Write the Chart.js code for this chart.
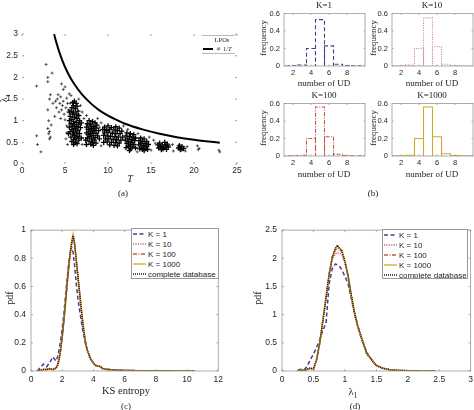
<!DOCTYPE html>
<html>
<head>
<meta charset="utf-8">
<script src="https://cdn.jsdelivr.net/npm/chart.js@4.4.1/dist/chart.umd.min.js"></script>
<style>
html, body { margin: 0; padding: 0; background: #fff; width: 474px; height: 410px; overflow: hidden; position: relative; }
canvas { position: absolute; }
.t { position: absolute; white-space: nowrap; color: #222; font-family: "Liberation Serif", serif; line-height: 1; transform: translate(-50%, -50%); z-index: 3; }
.rot { transform: translate(-50%, -50%) rotate(-90deg); }
.leg { position: absolute; box-sizing: border-box; background: #fff; border: 1px solid #9a9a9a; padding-left: 1px; z-index: 2;
       font-family: "Liberation Sans", Arial, sans-serif; font-size: 8px; color: #222; overflow: hidden; }
.leg div { height: 10px; display: flex; align-items: center; white-space: nowrap; }
.leg svg { margin-right: 2px; flex: none; }
.hl { position: absolute; height: 0; border-top: 1px solid #b8b8b8; z-index: 2; }
</style>
</head>
<body>
<!-- (a) -->
<div class="t rot" style="left:5px;top:98px;font-size:10px">λ<sub style="font-size:70%">1</sub></div>
<div class="t" style="left:130px;top:179px;font-size:10px;font-style:italic">T</div>
<div class="t" style="left:123px;top:193px;font-size:9px">(a)</div>
<div class="hl" style="left:202px;top:35px;width:33px"></div>
<div class="hl" style="left:202px;top:53px;width:33px"></div>
<div class="t" style="left:222px;top:40px;font-size:6.5px">LPOs</div>
<div style="position:absolute;left:203px;top:48px;width:10px;height:2px;background:#000"></div>
<div class="t" style="left:224px;top:49px;font-size:6.5px">∝ 1/<i>T</i></div>
<!-- (b) -->
<div class="t" style="left:324px;top:5px;font-size:9px">K=1</div>
<div class="t" style="left:432px;top:5px;font-size:9px">K=10</div>
<div class="t" style="left:324px;top:95px;font-size:9px">K=100</div>
<div class="t" style="left:432px;top:95px;font-size:9px">K=1000</div>
<div class="t rot" style="left:263px;top:38px;font-size:9px">frequency</div>
<div class="t rot" style="left:373px;top:38px;font-size:9px">frequency</div>
<div class="t rot" style="left:263px;top:128px;font-size:9px">frequency</div>
<div class="t rot" style="left:373px;top:128px;font-size:9px">frequency</div>
<div class="t" style="left:324px;top:83px;font-size:9px">number of UD</div>
<div class="t" style="left:432px;top:83px;font-size:9px">number of UD</div>
<div class="t" style="left:324px;top:174px;font-size:9px">number of UD</div>
<div class="t" style="left:432px;top:174px;font-size:9px">number of UD</div>
<div class="t" style="left:373px;top:193px;font-size:9px">(b)</div>
<!-- (c) -->
<div class="t rot" style="left:10px;top:298px;font-size:10px">pdf</div>
<div class="t" style="left:126px;top:391px;font-size:10.5px">KS entropy</div>
<div class="t" style="left:126px;top:406px;font-size:9px">(c)</div>
<!-- (d) -->
<div class="t rot" style="left:258px;top:298px;font-size:10px">pdf</div>
<div class="t" style="left:353px;top:393px;font-size:10.5px">λ<sub style="font-size:70%">1</sub></div>
<div class="t" style="left:355px;top:406px;font-size:9px">(d)</div>

<script>
// (a) LPOs: [T, lambda]; dense clusters and scattered points
var lpoCore = [
    [5.9, 1.42], [6.1, 1.45], [6.3, 1.4], [6.0, 1.35], [6.4, 1.33], [5.8, 1.3], [6.2, 1.28], [5.7, 1.22], [6.5, 1.22],
    [6.0, 1.2], [5.9, 1.15], [6.3, 1.15], [6.6, 1.12], [5.6, 1.1], [6.1, 1.08], [6.4, 1.05], [5.8, 1.03], [6.7, 1.0],
    [5.5, 1.0], [6.0, 0.98], [6.3, 0.96], [5.7, 0.93], [6.6, 0.92], [6.1, 0.9], [5.9, 0.87], [6.4, 0.86], [5.5, 0.85],
    [6.8, 0.84], [6.2, 0.82], [5.8, 0.8], [6.5, 0.78], [6.0, 0.76], [5.6, 0.74], [6.3, 0.72], [6.7, 0.7], [5.9, 0.69],
    [6.1, 0.66], [6.5, 0.64], [5.7, 0.62], [6.3, 0.6], [6.0, 0.57], [6.6, 0.55], [5.8, 0.52], [6.2, 0.5], [6.4, 0.47],
    [6.0, 0.45], [6.9, 0.6], [5.4, 0.7], [6.9, 0.95], [5.5, 1.2],
    [7.8, 1.0], [8.2, 0.98], [8.5, 0.95], [7.6, 0.93], [8.0, 0.92], [8.7, 0.9], [7.9, 0.88], [8.3, 0.86], [7.5, 0.85],
    [8.6, 0.83], [8.1, 0.82], [7.7, 0.8], [8.4, 0.78], [8.9, 0.77], [7.9, 0.76], [8.2, 0.74], [7.5, 0.72], [8.6, 0.71],
    [8.0, 0.7], [7.7, 0.68], [8.3, 0.66], [8.8, 0.65], [7.9, 0.63], [8.5, 0.61], [7.6, 0.6], [8.1, 0.58], [8.4, 0.55],
    [7.8, 0.53], [8.2, 0.5], [8.6, 0.48], [8.0, 0.46], [7.4, 0.55], [9.0, 0.58], [7.5, 0.45], [8.3, 0.43],
    [9.6, 0.85], [10.0, 0.88], [10.4, 0.84], [10.9, 0.86], [11.3, 0.83], [9.4, 0.8], [9.8, 0.78], [10.2, 0.8],
    [10.7, 0.79], [11.1, 0.77], [11.6, 0.76], [9.6, 0.72], [10.0, 0.73], [10.5, 0.71], [10.9, 0.7], [11.4, 0.7],
    [9.5, 0.66], [9.9, 0.65], [10.3, 0.64], [10.8, 0.63], [11.2, 0.62], [11.7, 0.62], [9.7, 0.58], [10.1, 0.58],
    [10.6, 0.57], [11.0, 0.56], [11.5, 0.55], [9.9, 0.51], [10.4, 0.5], [10.9, 0.5], [11.3, 0.48], [10.2, 0.44],
    [10.7, 0.43], [11.1, 0.42], [9.5, 0.5],
    [12.2, 0.72], [12.6, 0.7], [13.0, 0.68], [12.1, 0.65], [12.5, 0.63], [12.9, 0.62], [13.2, 0.6], [12.3, 0.58],
    [12.7, 0.56], [12.0, 0.55], [13.1, 0.54], [12.4, 0.51], [12.8, 0.5], [12.2, 0.47], [12.6, 0.45], [13.0, 0.45],
    [12.4, 0.41], [12.8, 0.39], [12.1, 0.38], [12.6, 0.35], [13.2, 0.37], [12.5, 0.31],
    [13.8, 0.6], [14.2, 0.58], [13.6, 0.54], [14.0, 0.52], [14.5, 0.52], [13.8, 0.48], [14.3, 0.47], [14.7, 0.45],
    [13.6, 0.44], [14.1, 0.43], [14.5, 0.4], [13.9, 0.39], [14.3, 0.36], [14.0, 0.34], [14.6, 0.34], [13.7, 0.35],
    [14.2, 0.31],
    [16.0, 0.48], [16.6, 0.5], [16.9, 0.46], [15.8, 0.44], [16.3, 0.44], [16.7, 0.42], [16.1, 0.4], [16.5, 0.38],
    [17.0, 0.39], [15.9, 0.37], [16.4, 0.35], [16.8, 0.34], [16.2, 0.33],
    [18.3, 0.42], [18.6, 0.4], [18.2, 0.37], [18.5, 0.35], [18.8, 0.36], [18.4, 0.33]
];
var lpoSparse = [
    [1.7, 1.8], [1.7, 0.65], [1.8, 0.45], [2.2, 0.28], [2.8, 2.3], [3.0, 2.0], [3.0, 1.9], [3.2, 1.5], [3.0, 1.25],
    [3.1, 1.0], [3.0, 0.82], [3.2, 0.75], [3.1, 0.7], [3.3, 0.62], [3.2, 0.58], [3.4, 0.9], [3.5, 2.1], [3.6, 1.4],
    [3.3, 1.6], [3.9, 1.45], [4.2, 1.6], [4.5, 1.55], [4.8, 1.72], [4.6, 1.85], [5.0, 1.78], [4.0, 1.3], [4.3, 1.2],
    [4.7, 1.35], [5.2, 1.52], [5.3, 1.4], [4.9, 1.15], [5.0, 1.02], [4.5, 1.05], [5.5, 1.62], [5.7, 1.58], [5.2, 0.72],
    [5.1, 0.58], [5.3, 0.45], [4.8, 1.45], [5.2, 0.88], [4.6, 1.25], [5.4, 1.25], [4.4, 1.4], [3.8, 1.1], [5.1, 1.3],
    [4.1, 1.5], [5.6, 1.4], [6.6, 1.5], [6.8, 1.35], [7.0, 1.2],
    [17.2, 0.42], [18.3, 0.45], [18.7, 0.32], [19.2, 0.4],
    [20.4, 0.42], [20.6, 0.36], [20.5, 0.33], [22.9, 0.32], [23.0, 0.28], [17.6, 0.3], [19.0, 0.3],
    [7.2, 1.05], [7.5, 1.12], [8.8, 1.05], [9.2, 0.95], [9.0, 0.85], [11.8, 0.88], [12.3, 0.8], [13.5, 0.7],
    [14.8, 0.62], [15.3, 0.55], [15.5, 0.48], [17.5, 0.45], [13.4, 0.28], [15.0, 0.32], [7.0, 0.45], [9.2, 0.42]
];
// (a) the "proportional to 1/T" bound
var boundT = [3.73, 4, 4.5, 5, 5.5, 6, 7, 8, 9, 10, 11, 12, 14, 16, 18, 20, 23];
var boundL = [3.0, 2.8, 2.49, 2.24, 2.04, 1.87, 1.6, 1.4, 1.24, 1.12, 1.02, 0.93, 0.8, 0.7, 0.62, 0.56, 0.49];
var ticksAX = [0, 5, 10, 15, 20, 25];
var ticksAY = [0, 0.5, 1, 1.5, 2, 2.5, 3];

// (b) histograms of number of UD
var udBins = [1, 2, 3, 4, 5, 6, 7, 8, 9, 10];
var freqK1 = [0, 0.003, 0.012, 0.2, 0.53, 0.23, 0.02, 0.005, 0.002, 0];
var freqK10 = [0, 0.002, 0.01, 0.2, 0.55, 0.22, 0.02, 0.004, 0.002, 0];
var freqK100 = [0, 0.002, 0.008, 0.2, 0.56, 0.22, 0.02, 0.004, 0.001, 0];
var freqK1000 = [0, 0.002, 0.008, 0.2, 0.56, 0.22, 0.025, 0.004, 0.001, 0];
var ticksBX = [2, 4, 6, 8];
var ticksBY = [0, 0.2, 0.4, 0.6];

// (c) pdf of KS entropy
var ksX = [0.4, 0.8, 1.0, 1.2, 1.4, 1.6, 1.7, 1.8, 1.9, 2.0, 2.1, 2.2, 2.3, 2.4, 2.5, 2.6, 2.7, 2.8, 2.9, 3.0,
    3.1, 3.2, 3.3, 3.4, 3.5, 3.6, 3.8, 4.0, 4.2, 4.4, 4.6, 4.8, 5.0, 5.5, 6.0, 7.0, 8.0, 9.0, 10.5];
var ksK1 = [0, 0.05, 0.03, 0.06, 0.1, 0.07, 0.1, 0.15, 0.22, 0.3, 0.4, 0.52, 0.64, 0.75, 0.83, 0.88, 0.84, 0.74, 0.62, 0.52,
    0.44, 0.37, 0.3, 0.24, 0.19, 0.15, 0.09, 0.055, 0.035, 0.03, 0.018, 0.012, 0.01, 0.006, 0.004, 0.002, 0.001, 0.001, 0];
var ksK10 = [0, 0.012, 0.01, 0.018, 0.012, 0.025, 0.045, 0.09, 0.16, 0.25, 0.36, 0.48, 0.61, 0.72, 0.82, 0.9, 0.95, 0.89, 0.78, 0.67,
    0.57, 0.46, 0.36, 0.27, 0.2, 0.15, 0.09, 0.055, 0.035, 0.033, 0.018, 0.012, 0.01, 0.006, 0.004, 0.002, 0.001, 0.001, 0];
var ksK100 = [0, 0.012, 0.01, 0.016, 0.012, 0.022, 0.042, 0.085, 0.155, 0.245, 0.355, 0.475, 0.6, 0.72, 0.82, 0.9, 0.95, 0.9, 0.78, 0.67,
    0.57, 0.46, 0.36, 0.27, 0.2, 0.15, 0.09, 0.055, 0.035, 0.033, 0.018, 0.012, 0.01, 0.006, 0.004, 0.002, 0.001, 0.001, 0];
var ksK1000 = [0, 0.01, 0.01, 0.015, 0.01, 0.02, 0.04, 0.08, 0.15, 0.24, 0.35, 0.47, 0.6, 0.72, 0.83, 0.91, 0.97, 0.9, 0.79, 0.68,
    0.57, 0.46, 0.36, 0.27, 0.2, 0.15, 0.09, 0.055, 0.035, 0.033, 0.018, 0.012, 0.01, 0.006, 0.004, 0.002, 0.001, 0.001, 0];
var ksAll = [0, 0.01, 0.01, 0.015, 0.01, 0.02, 0.04, 0.08, 0.15, 0.24, 0.35, 0.47, 0.6, 0.72, 0.83, 0.91, 0.96, 0.9, 0.79, 0.68,
    0.57, 0.46, 0.36, 0.27, 0.2, 0.15, 0.09, 0.055, 0.035, 0.033, 0.018, 0.012, 0.01, 0.006, 0.004, 0.002, 0.001, 0.001, 0];
var ticksCX = [0, 2, 4, 6, 8, 10, 12];
var ticksCY = [0, 0.2, 0.4, 0.6, 0.8, 1];

// (d) pdf of lambda_1
var lamX = [0.25, 0.3, 0.35, 0.4, 0.45, 0.5, 0.55, 0.6, 0.65, 0.7, 0.75, 0.8, 0.85, 0.88, 0.92, 0.95, 1.0, 1.05, 1.1, 1.15,
    1.2, 1.25, 1.3, 1.35, 1.4, 1.45, 1.5, 1.6, 1.7, 1.8, 2.0, 2.2, 2.45];
var lamK1 = [0.02, 0.03, 0.02, 0.08, 0.2, 0.3, 0.42, 0.55, 0.72, 0.85, 1.55, 1.82, 1.9, 1.88, 1.85, 1.8, 1.68, 1.55, 1.3, 1.03,
    0.8, 0.62, 0.46, 0.33, 0.24, 0.17, 0.1, 0.05, 0.025, 0.012, 0.005, 0.002, 0];
var lamK10 = [0, 0.02, 0.01, 0.03, 0.06, 0.04, 0.2, 0.5, 0.88, 1.28, 1.7, 1.98, 2.08, 2.1, 2.09, 2.06, 1.92, 1.68, 1.35, 1.05,
    0.82, 0.64, 0.47, 0.3, 0.24, 0.16, 0.1, 0.05, 0.025, 0.012, 0.005, 0.002, 0];
var lamK100 = [0, 0.02, 0.01, 0.03, 0.05, 0.03, 0.19, 0.49, 0.88, 1.3, 1.72, 2.02, 2.15, 2.18, 2.15, 2.12, 1.94, 1.68, 1.35, 1.05,
    0.82, 0.64, 0.47, 0.3, 0.24, 0.16, 0.1, 0.05, 0.025, 0.012, 0.005, 0.002, 0];
var lamK1000 = [0, 0.02, 0.01, 0.03, 0.05, 0.03, 0.2, 0.5, 0.9, 1.3, 1.72, 2.02, 2.18, 2.22, 2.17, 2.14, 1.95, 1.7, 1.35, 1.05,
    0.82, 0.64, 0.47, 0.3, 0.24, 0.16, 0.1, 0.05, 0.025, 0.012, 0.005, 0.002, 0];
var lamAll = [0, 0.02, 0.01, 0.03, 0.05, 0.03, 0.2, 0.5, 0.9, 1.3, 1.72, 2.02, 2.18, 2.23, 2.17, 2.14, 1.95, 1.7, 1.35, 1.05,
    0.82, 0.64, 0.47, 0.3, 0.24, 0.16, 0.1, 0.05, 0.025, 0.012, 0.005, 0.002, 0];
var ticksDX = [0, 0.5, 1, 1.5, 2, 2.5, 3];
var ticksDY = [0, 0.5, 1, 1.5, 2, 2.5];

// series styles
var kLabels = ['K = 1', 'K = 10', 'K = 100', 'K = 1000', 'complete database'];
var kColors = ['#4a3c8c', '#c8649b', '#cc5a35', '#dba62a', '#1a1a1a'];
var kDashes = [[4, 2.5], [1.2, 1.2], [4, 1.5, 1, 1.5], [], [1, 1]];
var histColors = ['#4a3c8c', '#d490b2', '#c8553a', '#d4a72c'];

// frame around the axes plus small inward tick marks
var framePlugin = {
    id: 'frame',
    afterDatasetsDraw: function (chart, args, opts) {
        var a = chart.chartArea, ctx = chart.ctx;
        var sx = chart.scales.x, sy = chart.scales.y;
        var len = opts.tick || 0;
        ctx.save();
        ctx.strokeStyle = opts.color || '#999';
        ctx.lineWidth = 0.8;
        if (opts.box) {
            ctx.strokeRect(a.left, a.top, a.right - a.left, a.bottom - a.top);
        }
        ctx.beginPath();
        sx.ticks.forEach(function (t) {
            var px = sx.getPixelForValue(t.value);
            ctx.moveTo(px, a.bottom); ctx.lineTo(px, a.bottom - len);
            ctx.moveTo(px, a.top); ctx.lineTo(px, a.top + len);
        });
        sy.ticks.forEach(function (t) {
            var py = sy.getPixelForValue(t.value);
            ctx.moveTo(a.left, py); ctx.lineTo(a.left + len, py);
            ctx.moveTo(a.right, py); ctx.lineTo(a.right - len, py);
        });
        ctx.stroke();
        ctx.restore();
    }
};

function axis(min, max, tickList, fontSize, padding) {
    return {
        type: 'linear', min: min, max: max,
        afterBuildTicks: function (s) { s.ticks = tickList.map(function (v) { return { value: v }; }); },
        grid: { display: false, drawTicks: false },
        border: { display: false },
        ticks: {
            font: { family: 'Liberation Sans', size: fontSize }, color: '#262626',
            padding: padding, autoSkip: false, maxRotation: 0,
            callback: function (v) { return String(Math.round(v * 100) / 100); }
        }
    };
}

// box = [left, right, top, bottom] of the plot area, pad = [left, right, top, bottom]
function makeChart(box, pad, xAxis, yAxis, datasets, frame) {
    var canvas = document.createElement('canvas');
    var w = box[1] - box[0] + pad[0] + pad[1];
    var h = box[3] - box[2] + pad[2] + pad[3];
    canvas.width = w;
    canvas.height = h;
    canvas.style.left = (box[0] - pad[0]) + 'px';
    canvas.style.top = (box[2] - pad[2]) + 'px';
    document.body.appendChild(canvas);
    xAxis.afterFit = function (s) { s.height = pad[3]; };
    yAxis.afterFit = function (s) { s.width = pad[0]; };
    return new Chart(canvas.getContext('2d'), {
        type: 'scatter',
        data: { datasets: datasets },
        options: {
            responsive: false,
            animation: false,
            events: [],
            layout: { padding: { top: pad[2], right: pad[1], left: 0, bottom: 0 } },
            scales: { x: xAxis, y: yAxis },
            plugins: { legend: { display: false }, tooltip: { enabled: false }, frame: frame }
        },
        plugins: [framePlugin]
    });
}

function pts(xs, ys) {
    return xs.map(function (x, i) { return { x: x, y: ys[i] }; });
}

function pairs(list) {
    return list.map(function (p) { return { x: p[0], y: p[1] }; });
}

// outline of each histogram bar (bins centred on integers, width 1)
function histPts(bins, freq) {
    var out = [];
    bins.forEach(function (c, i) {
        out.push({ x: c - 0.5, y: 0 }, { x: c - 0.5, y: freq[i] }, { x: c + 0.5, y: freq[i] }, { x: c + 0.5, y: 0 });
    });
    return out;
}

function lineSet(data, i, width) {
    return {
        data: data, showLine: true, pointRadius: 0, tension: 0,
        borderColor: kColors[i], borderWidth: width, borderDash: kDashes[i], order: 5 - i
    };
}

function addLegend(left, top, width, height) {
    var box = document.createElement('div');
    box.className = 'leg';
    box.style.left = left + 'px';
    box.style.top = top + 'px';
    box.style.width = width + 'px';
    box.style.height = height + 'px';
    kLabels.forEach(function (label, i) {
        var row = document.createElement('div');
        var dash = kDashes[i].length ? kDashes[i].join(' ') : 'none';
        row.innerHTML = '<svg width="13" height="4"><line x1="0" y1="2" x2="13" y2="2" stroke="' + kColors[i] +
            '" stroke-width="1.3" stroke-dasharray="' + dash + '"/></svg><span>' + label + '</span>';
        box.appendChild(row);
    });
    document.body.appendChild(box);
}

document.addEventListener('DOMContentLoaded', function () {
    // (a) scatter of LPOs with the 1/T bound
    makeChart([22, 237, 33, 164], [22, 8, 8, 16],
        axis(0, 25, ticksAX, 8.5, 2), axis(0, 3, ticksAY, 8.5, 4),
        [
            {
                data: pts(boundT, boundL), showLine: true, pointRadius: 0, tension: 0.3,
                cubicInterpolationMode: 'monotone', borderColor: '#000', borderWidth: 2, order: 0
            },
            {
                data: pairs(lpoCore), pointStyle: 'cross', pointRadius: 2.6, pointBorderWidth: 1.3,
                pointBorderColor: '#000', pointBackgroundColor: '#000', order: 1
            },
            {
                data: pairs(lpoSparse), pointStyle: 'cross', pointRadius: 1.5, pointBorderWidth: 0.7,
                pointBorderColor: '#222', pointBackgroundColor: '#222', order: 2
            }
        ],
        { box: false, tick: 2, color: '#888' });

    // (b) four histograms
    var hists = [freqK1, freqK10, freqK100, freqK1000];
    var boxes = [[284, 365, 11, 66], [392, 473, 11, 66], [284, 365, 101, 156], [392, 473, 101, 156]];
    hists.forEach(function (freq, i) {
        makeChart(boxes[i], [24, 4, 6, 14],
            axis(1, 10, ticksBX, 7.5, 2), axis(0, 0.6, ticksBY, 7.5, 4),
            [{
                data: histPts(udBins, freq), showLine: true, pointRadius: 0, tension: 0,
                borderColor: histColors[i], borderWidth: 1.1, borderDash: kDashes[i]
            }],
            { box: true, tick: 1.5, color: '#9a9a9a' });
    });

    // (c) KS entropy
    var ksSeries = [ksK1, ksK10, ksK100, ksK1000, ksAll];
    makeChart([31, 221, 226, 371], [30, 6, 6, 16],
        axis(0, 12, ticksCX, 8.5, 4), axis(0, 1, ticksCY, 8.5, 5),
        ksSeries.map(function (ys, i) { return lineSet(pts(ksX, ys), i, 1.5); }),
        { box: true, tick: 2, color: '#9a9a9a' });
    addLegend(131, 228, 88, 51);

    // (d) lambda_1
    var lamSeries = [lamK1, lamK10, lamK100, lamK1000, lamAll];
    makeChart([282, 471, 226, 371], [30, 6, 6, 16],
        axis(0, 3, ticksDX, 8.5, 4), axis(0, 2.5, ticksDY, 8.5, 5),
        lamSeries.map(function (ys, i) { return lineSet(pts(lamX, ys), i, 1.5); }),
        { box: true, tick: 2, color: '#9a9a9a' });
    addLegend(382, 229, 86, 50);
});
</script>
</body>
</html>
